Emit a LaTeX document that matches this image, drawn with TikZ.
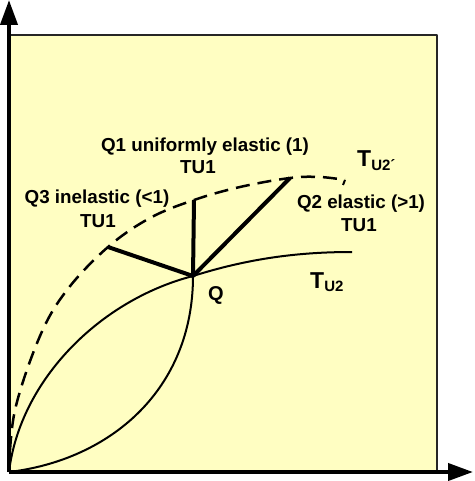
\documentclass[tikz,border=0pt]{standalone}
\usepackage{fontspec}
\setmainfont{Liberation Sans}
\usetikzlibrary{arrows.meta}
\definecolor{paper}{HTML}{FFFEC2}
\tikzset{
  every picture/.style={line join=round, line cap=butt},
  axis/.style={line width=4pt,-{Triangle[length=25pt,width=17pt]}},
  curve/.style={line width=2pt},
  shift line/.style={line width=4pt},
  dashcurve/.style={line width=2.5pt,dash pattern=on 14pt off 8pt},
  lab/.style={font=\fontsize{18.8}{18.8}\selectfont\bfseries,anchor=base,inner sep=0pt},
  tlab/.style={anchor=base west,inner sep=0pt,font=\bfseries},
}
\newcommand{\bigT}[1]{{\fontsize{23}{23}\selectfont T}\raisebox{-3pt}{\fontsize{15}{15}\selectfont #1}}
\begin{document}
\begin{tikzpicture}[x=1pt,y=-1pt]
\useasboundingbox (0,0) rectangle (474,481);
\fill[paper] (10,35) rectangle (437,472);
\draw[line width=1.5pt,black!85] (10,35) -- (437,35) -- (437,472);
\coordinate (O) at (9,472);
\coordinate (Q) at (193,276);
\coordinate (Q3) at (108,247);
\coordinate (Q1) at (194,200);
\coordinate (Q2) at (290,178);
\draw[curve] (O) .. controls (20,380) and (100,300) .. (Q) .. controls (250,258) and (300,252) .. (352,252);
\draw[curve] (O) .. controls (110,460) and (193,390) .. (Q);
\draw[dashcurve] plot[smooth,tension=0.6] coordinates {(9,472) (15,410) (40,336) (67,290) (108,247) (150,218) (194,200) (240,187) (290,178) (320,177) (345,180)};
\draw[curve] (345,180) -- (343,185);
\draw[shift line] (Q) -- (Q3);
\draw[shift line] (Q) -- (Q1);
\draw[shift line] (Q) -- (Q2);
\draw[axis] (O) -- (9,0);
\draw[axis] (O) -- (473,472);
\node[lab] (q1t) at (205,152) {Q1 uniformly elastic (1)};
\node[lab] (q1u) at (198,173) {TU1};
\node[lab] (q3t) at (97,203) {Q3 inelastic (<1)};
\node[lab] (q3u) at (98,227) {TU1};
\node[lab] (q2t) at (361,208) {Q2 elastic (>1)};
\node[lab] (q2u) at (359,231) {TU1};
\node[lab,font=\fontsize{20}{20}\selectfont\bfseries] (qlab) at (216,300) {Q};
\node[tlab] (tu2p) at (357,167) {\bigT{U2´}};
\node[tlab] (tu2) at (310,288) {\bigT{U2}};
\end{tikzpicture}
\end{document}
